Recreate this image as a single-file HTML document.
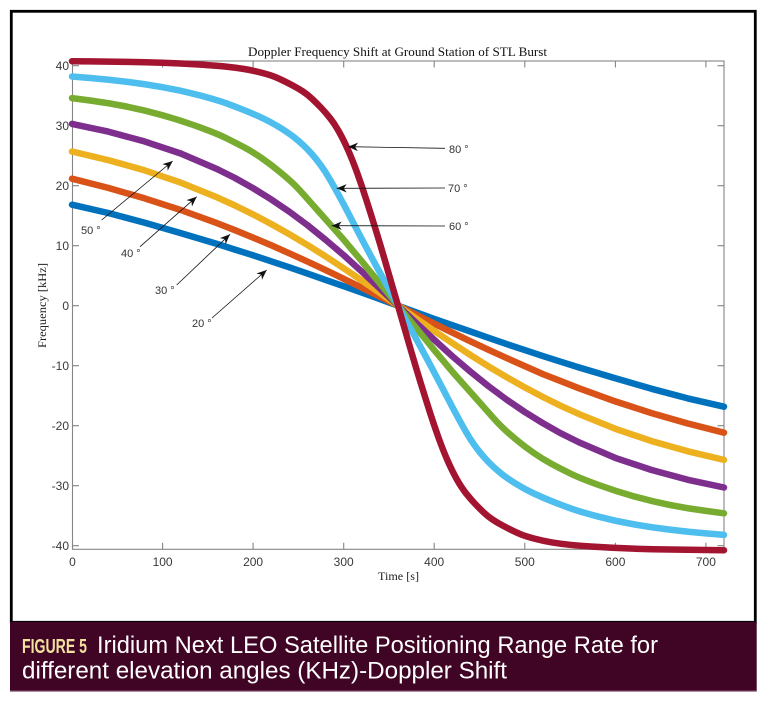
<!DOCTYPE html>
<html><head><meta charset="utf-8"><style>
html,body{margin:0;padding:0;background:#fff;}
svg{display:block;}
</style></head><body>
<svg width="766" height="704" viewBox="0 0 766 704" xmlns="http://www.w3.org/2000/svg">
<defs>
<marker id="ah" markerUnits="userSpaceOnUse" markerWidth="14" markerHeight="12" refX="11" refY="6" orient="auto" viewBox="0 0 14 12">
<path d="M11,6 L1,1.8 L4,6 L1,10.2 Z" fill="#111"/>
</marker>
</defs>
<rect x="0" y="0" width="766" height="704" fill="#fff"/>
<!-- frame -->
<rect x="11.3" y="11.3" width="744" height="611" fill="#fff" stroke="#000" stroke-width="2.8"/>
<!-- caption band -->
<rect x="10" y="622" width="746.7" height="69.5" fill="#400424"/>
<rect x="10" y="690.5" width="746.7" height="1.2" fill="#8a5a78"/>
<text x="22" y="653" font-family="Liberation Sans, sans-serif" font-weight="bold" font-size="20" fill="#f3e1a0" textLength="65" lengthAdjust="spacingAndGlyphs">FIGURE 5</text>
<text x="97" y="653" font-family="Liberation Sans, sans-serif" font-size="24" fill="#fff" textLength="561" lengthAdjust="spacingAndGlyphs">Iridium Next LEO Satellite Positioning Range Rate for</text>
<text x="22" y="678.5" font-family="Liberation Sans, sans-serif" font-size="24" fill="#fff" textLength="485" lengthAdjust="spacingAndGlyphs">different elevation angles (KHz)-Doppler Shift</text>

<!-- axes -->
<g stroke="#858585" stroke-width="1.1" fill="none">
<rect x="72.5" y="61" width="651.5" height="488.3"/>
<path d="M72.5,65.7h6.5M72.5,125.7h6.5M72.5,185.7h6.5M72.5,245.7h6.5M72.5,305.7h6.5M72.5,365.7h6.5M72.5,425.7h6.5M72.5,485.7h6.5M72.5,545.7h6.5"/>
<path d="M724,65.7h-6.5M724,125.7h-6.5M724,185.7h-6.5M724,245.7h-6.5M724,305.7h-6.5M724,365.7h-6.5M724,425.7h-6.5M724,485.7h-6.5M724,545.7h-6.5"/>
<path d="M72.5,549.3v-6.5M162.6,549.3v-6.5M253.1,549.3v-6.5M343.7,549.3v-6.5M434.2,549.3v-6.5M524.8,549.3v-6.5M615.4,549.3v-6.5M705.9,549.3v-6.5"/>
<path d="M72.5,61v6.5M162.6,61v6.5M253.1,61v6.5M343.7,61v6.5M434.2,61v6.5M524.8,61v6.5M615.4,61v6.5M705.9,61v6.5"/>
</g>
<g font-family="Liberation Sans, sans-serif" font-size="12" fill="#3a3a3a" text-anchor="end">
<text x="69" y="70">40</text>
<text x="69" y="130">30</text>
<text x="69" y="190">20</text>
<text x="69" y="250">10</text>
<text x="69" y="310">0</text>
<text x="69" y="370">-10</text>
<text x="69" y="430">-20</text>
<text x="69" y="490">-30</text>
<text x="69" y="550">-40</text>
</g>
<g font-family="Liberation Sans, sans-serif" font-size="12" fill="#3a3a3a" text-anchor="middle">
<text x="72.5" y="566">0</text>
<text x="162.6" y="566">100</text>
<text x="253.1" y="566">200</text>
<text x="343.7" y="566">300</text>
<text x="434.2" y="566">400</text>
<text x="524.8" y="566">500</text>
<text x="615.4" y="566">600</text>
<text x="705.9" y="566">700</text>
</g>
<text x="248" y="56" font-family="Liberation Serif, serif" font-size="12.5" fill="#111" textLength="299" lengthAdjust="spacingAndGlyphs">Doppler Frequency Shift at Ground Station of STL Burst</text>
<text x="378" y="580" font-family="Liberation Serif, serif" font-size="12" fill="#222" textLength="41" lengthAdjust="spacingAndGlyphs">Time [s]</text>
<text x="0" y="0" transform="translate(46,305.5) rotate(-90)" text-anchor="middle" font-family="Liberation Serif, serif" font-size="12" fill="#222" textLength="85" lengthAdjust="spacingAndGlyphs">Frequency [kHz]</text>

<!-- curves -->
<g fill="none" stroke-width="6.5" stroke-linecap="round" stroke-linejoin="round">
<polyline stroke="#0072BD" points="72,204.7 108.2,213 144.4,222.6 180.7,233.1 216.9,243.9 235,249.6 253.1,255.3 271.2,261.3 289.3,267.3 307.5,273.6 325.6,279.9 343.7,286.2 361.8,292.5 379.9,299.1 398,305.7 416.1,312.3 434.2,318.9 452.3,325.2 470.4,331.5 488.5,337.8 506.7,344.1 524.8,350.1 542.9,356.1 561,361.8 579.1,367.5 615.3,378.3 651.6,388.8 687.8,398.4 724,406.7"/>
<polyline stroke="#D95319" points="72,178.7 108.2,187.9 144.4,198.3 180.7,210 216.9,223.1 235,230.2 253.1,237.6 271.2,245.3 289.3,253.3 307.5,261.6 325.6,270.1 343.7,278.8 361.8,287.7 379.9,296.7 398,305.7 416.1,314.7 434.2,323.7 452.3,332.6 470.4,341.3 488.5,349.8 506.7,358.1 524.8,366.1 542.9,374.1 561,381.2 579.1,388.3 615.3,401.4 651.6,413.1 687.8,423.5 724,432.7"/>
<polyline stroke="#EDB120" points="72,151.5 108.2,160.1 144.4,170.3 180.7,182.6 216.9,197.3 235,205.5 253.1,214.4 271.2,224 289.3,234.2 307.5,245 325.6,256.4 343.7,268.3 361.8,280.5 379.9,293 398,305.7 416.1,318.4 434.2,330.9 452.3,343.1 470.4,355 488.5,366.4 506.7,377.2 524.8,387.4 542.9,397 561,405.9 579.1,414.1 615.3,428.8 651.6,441.1 687.8,451.3 724,459.9"/>
<polyline stroke="#7E2F8E" points="72,123.9 108.2,131.6 144.4,141.4 180.7,153.5 216.9,169 235,178 253.1,188.2 271.2,199.4 289.3,211.7 307.5,225.2 325.6,239.8 343.7,255.2 361.8,271.6 379.9,288.5 398,305.7 416.1,322.9 434.2,339.8 452.3,356.2 470.4,371.6 488.5,386.2 506.7,399.7 524.8,412 542.9,423.2 561,433.4 579.1,442.4 615.3,457.9 651.6,470 687.8,479.8 724,487.5"/>
<path stroke="#77AC30" d="M72,98.1 L90.1,100.5 Q108.2,102.9 126.3,106.5 Q144.4,110.1 162.55,115.2 Q180.7,120.3 198.8,126.9 Q216.9,133.5 225.95,138 Q235,142.5 244.05,147.3 Q253.1,152.1 262.15,158.4 Q271.2,164.7 280.25,172.2 Q289.3,179.7 293.85,184.2 Q298.4,188.7 302.95,193.8 Q307.5,198.9 312,204 Q316.5,209.1 321.05,214.2 Q325.6,219.3 330.1,224.4 L334.6,229.5 L343.7,239.7 L352.7,250.5 L361.8,261.3 L370.8,272.4 L379.9,283.5 L389,294.6 L398,305.7 L407,316.8 L416.1,327.9 L425.2,339 L434.2,350.1 L443.3,360.9 L452.3,371.7 L461.4,381.9 L465.9,387 Q470.4,392.1 474.95,397.2 Q479.5,402.3 484,407.4 Q488.5,412.5 493.05,417.6 Q497.6,422.7 502.15,427.2 Q506.7,431.7 515.75,439.2 Q524.8,446.7 533.85,453 Q542.9,459.3 551.95,464.1 Q561,468.9 570.05,473.4 Q579.1,477.9 597.2,484.5 Q615.3,491.1 633.45,496.2 Q651.6,501.3 669.7,504.9 Q687.8,508.5 705.9,510.9 L724,513.3"/>
<path stroke="#4DBEEE" d="M72,76.5 L90.1,78 Q108.2,79.5 126.3,81.75 Q144.4,84 162.55,87.15 Q180.7,90.3 198.8,95.1 Q216.9,99.9 225.95,103.2 Q235,106.5 244.05,110.1 Q253.1,113.7 262.15,117.9 Q271.2,122.1 280.25,127.8 Q289.3,133.5 293.85,137.1 Q298.4,140.7 302.95,144.9 Q307.5,149.1 312,154.2 Q316.5,159.3 321.05,165.6 Q325.6,171.9 330.1,179.7 Q334.6,187.5 339.15,195.9 Q343.7,204.3 348.2,213 Q352.7,221.7 357.25,230.4 Q361.8,239.1 366.3,247.5 Q370.8,255.9 375.35,264.3 Q379.9,272.7 384.45,280.95 Q389,289.2 393.5,297.45 L402.5,313.95 Q407,322.2 411.55,330.45 Q416.1,338.7 420.65,347.1 Q425.2,355.5 429.7,363.9 Q434.2,372.3 438.75,381 Q443.3,389.7 447.8,398.4 Q452.3,407.1 456.85,415.5 Q461.4,423.9 465.9,431.7 Q470.4,439.5 474.95,445.8 Q479.5,452.1 484,457.2 Q488.5,462.3 493.05,466.5 Q497.6,470.7 502.15,474.3 Q506.7,477.9 515.75,483.6 Q524.8,489.3 533.85,493.5 Q542.9,497.7 551.95,501.3 Q561,504.9 570.05,508.2 Q579.1,511.5 597.2,516.3 Q615.3,521.1 633.45,524.25 Q651.6,527.4 669.7,529.65 Q687.8,531.9 705.9,533.4 L724,534.9"/>
<path stroke="#A2142F" d="M72,61.2 L90.1,61.4 Q108.2,61.6 126.3,61.9 Q144.4,62.2 162.55,62.75 Q180.7,63.3 198.8,64.5 Q216.9,65.7 225.95,66.6 Q235,67.5 244.05,69 Q253.1,70.5 262.15,72.9 Q271.2,75.3 275.75,77.25 Q280.3,79.2 284.8,81.45 Q289.3,83.7 293.85,86.1 Q298.4,88.5 302.95,91.5 Q307.5,94.5 312,98.7 Q316.5,102.9 321.05,107.7 Q325.6,112.5 330.1,118.2 Q334.6,123.9 339.15,132 Q343.7,140.1 348.2,150.3 Q352.7,160.5 357.25,173.1 Q361.8,185.7 366.3,199.8 Q370.8,213.9 375.35,228.6 Q379.9,243.3 384.45,258.9 Q389,274.5 393.5,290.1 L402.5,321.3 Q407,336.9 411.55,352.5 Q416.1,368.1 420.65,382.8 Q425.2,397.5 429.7,411.6 Q434.2,425.7 438.75,438.3 Q443.3,450.9 447.8,461.1 Q452.3,471.3 456.85,479.4 Q461.4,487.5 465.9,493.2 Q470.4,498.9 474.95,503.7 Q479.5,508.5 484,512.7 Q488.5,516.9 493.05,519.9 Q497.6,522.9 502.15,525.3 Q506.7,527.7 511.2,529.95 Q515.7,532.2 520.25,534.15 Q524.8,536.1 533.85,538.5 Q542.9,540.9 551.95,542.4 Q561,543.9 570.05,544.8 Q579.1,545.7 597.2,546.9 Q615.3,548.1 633.45,548.65 Q651.6,549.2 669.7,549.5 Q687.8,549.8 705.9,550 L724,550.2"/>
</g>

<!-- annotations -->
<g stroke="#111" stroke-width="0.8" fill="none" marker-end="url(#ah)">
<line x1="445" y1="148.3" x2="348" y2="146.7"/>
<line x1="445" y1="188" x2="336.7" y2="188.3"/>
<line x1="445" y1="226" x2="331.7" y2="225.7"/>
<line x1="101.7" y1="220" x2="172.7" y2="161"/>
<line x1="140" y1="246.7" x2="196.7" y2="196.7"/>
<line x1="176.7" y1="285" x2="230" y2="234.3"/>
<line x1="212" y1="318" x2="266.7" y2="270"/>
</g>
<g font-family="Liberation Sans, sans-serif" font-size="11" fill="#333">
<text x="449" y="153">80 °</text>
<text x="448" y="192">70 °</text>
<text x="449" y="230">60 °</text>
<text x="81" y="234">50 °</text>
<text x="121" y="257">40 °</text>
<text x="155" y="294">30 °</text>
<text x="192" y="327">20 °</text>
</g>
</svg>
</body></html>
